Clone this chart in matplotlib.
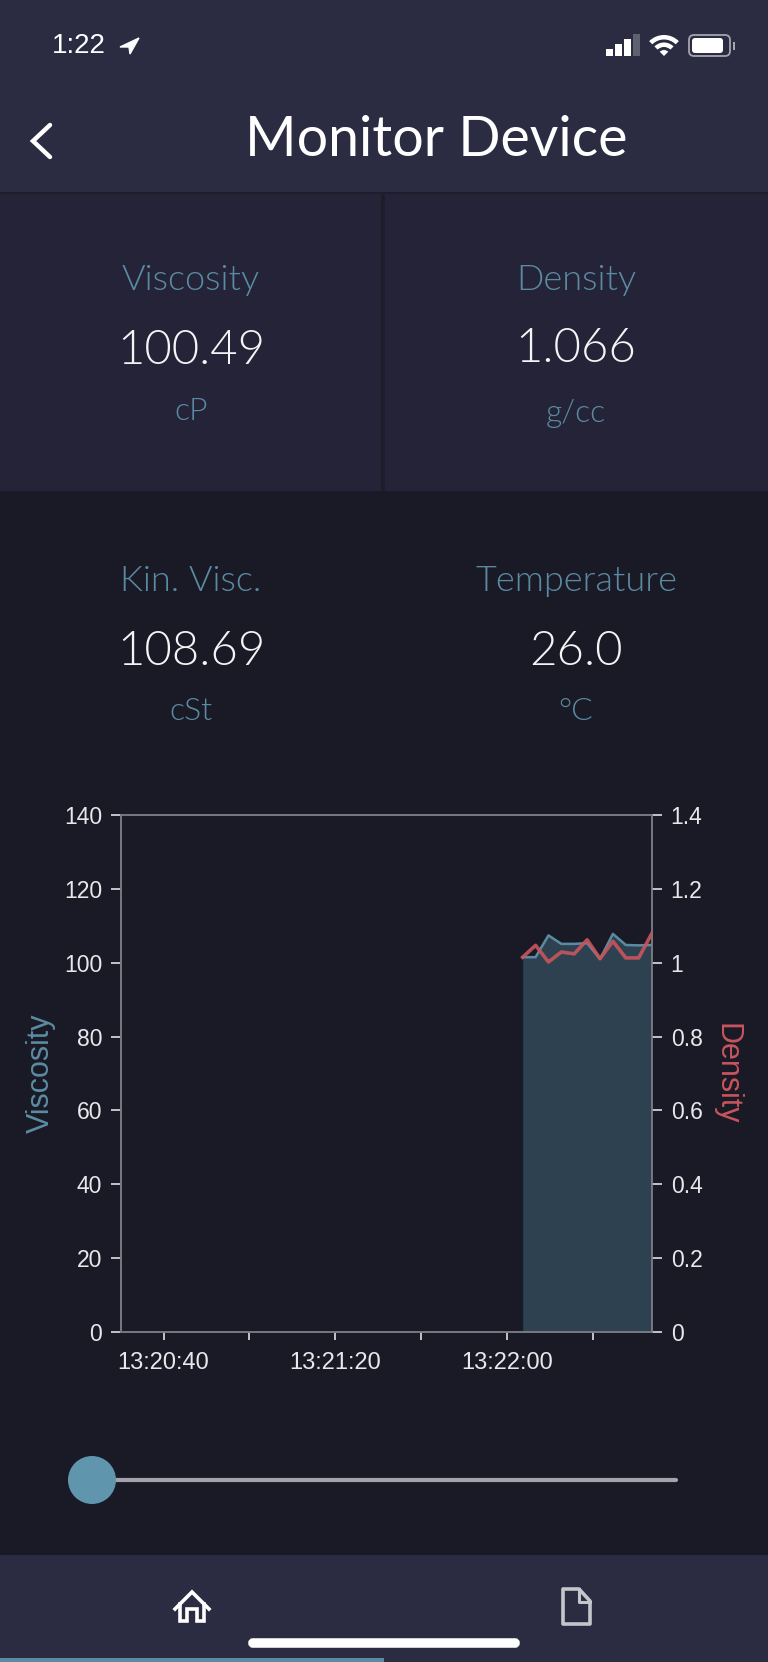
import matplotlib
matplotlib.use("Agg")
import matplotlib.pyplot as plt
from matplotlib.patches import Rectangle, Circle, FancyBboxPatch, Polygon, Wedge

# --- data ---
sample_seconds = [63.6, 66.6, 69.6, 72.6, 75.6, 78.6, 81.6, 84.6, 87.6, 90.6, 93.6]  # after 13:21:00
viscosity = [101.5, 101.5, 107.4, 105.1, 105.1, 105.3, 101.0, 107.8, 104.8, 104.7, 104.8]
density = [1.015, 1.047, 1.002, 1.029, 1.024, 1.062, 1.011, 1.058, 1.013, 1.013, 1.078]
x_ticks = [-20, 0, 20, 40, 60, 80]
x_tick_labels = ["13:20:40", "", "13:21:20", "", "13:22:00", ""]
visc_ticks = [0, 20, 40, 60, 80, 100, 120, 140]
dens_ticks = [0, 0.2, 0.4, 0.6, 0.8, 1, 1.2, 1.4]
dens_labels = ["0", "0.2", "0.4", "0.6", "0.8", "1", "1.2", "1.4"]
x_range = [-29.9, 93.7]
tiles = [("Viscosity", "100.49", "cP"), ("Density", "1.066", "g/cc"),
         ("Kin. Visc.", "108.69", "cSt"), ("Temperature", "26.0", "°C")]

BAR = "#2b2c42"; TILE = "#242337"; GAP = "#1e1d2c"; BODY = "#1a1a26"; BLUE = "#5b8ba3"; RED = "#c8555d"
WHITE = "#f4f4f6"; AXC = "#7b7b85"; TICK = "#d0d0d5"; LABEL = "#e8e8ec"; SANS = "Liberation Sans"; UI = "Lato"

W, H = 768, 1662
fig = plt.figure(figsize=(W / 100, H / 100), dpi=100, facecolor=BODY)
bg = fig.add_axes([0, 0, 1, 1], zorder=0)
bg.set_xlim(0, W); bg.set_ylim(H, 0); bg.axis("off")

def R(x, y, w, h, c, **k):
    bg.add_patch(Rectangle((x, y), w, h, fc=c, ec="none", **k))

def T(x, y, s, size, c, **k):
    k.setdefault("family", UI)
    bg.text(x, y, s, fontsize=size, color=c, ha=k.pop("ha", "center"), va=k.pop("va", "center"), **k)

# chrome
R(0, 0, W, 192, BAR)
R(0, 192, W, 299, GAP)
R(0, 194, 381, 297, TILE)
R(385, 194, 383, 297, TILE)
R(0, 1555, W, 107, BAR)
R(0, 1658, 384, 4, BLUE)
bg.add_patch(FancyBboxPatch((251, 1641), 266, 4, boxstyle="round,pad=0,rounding_size=2", fc="white", ec="white", lw=4))

# status bar
T(52, 46, "1:22", 20, "white", family=SANS, ha="left", fontweight="regular")
bg.add_patch(Polygon([(120, 47), (139, 38), (130, 54), (129, 47)], fc="white", ec="white", lw=1))
for x, top, col in [(606, 49, "white"), (615, 44, "white"), (624, 39, "white"), (633, 34, "#5f6070")]:
    R(x, top, 6.5, 56 - top, col)
bg.add_patch(Wedge((664, 56), 21, 225, 315, width=4.5, fc="white", ec="none"))
bg.add_patch(Wedge((664, 56), 13.5, 225, 315, width=4.5, fc="white", ec="none"))
bg.add_patch(Wedge((664, 56), 6, 225, 315, fc="white", ec="none"))
bg.add_patch(FancyBboxPatch((689, 35), 41, 21, boxstyle="round,pad=0,rounding_size=5", fc="none", ec="#a5a5ad", lw=1.3))
bg.add_patch(FancyBboxPatch((692, 38), 31, 15, boxstyle="round,pad=0,rounding_size=3", fc="white", ec="none"))
R(733, 42, 2, 8, "#a5a5ad")

# header
bg.plot([50, 33, 50], [125, 141, 157], color="white", lw=3.2, solid_capstyle="round", solid_joinstyle="miter")
T(436, 141, "Monitor Device", 40, "white", fontweight="regular")

# value tiles
centers = [(191, 280, 351, 411), (576, 280, 349, 413), (191, 581, 652, 712), (576, 581, 652, 712)]
for (name, val, unit), (cx, y1, y2, y3) in zip(tiles, centers):
    T(cx, y1, name, 26, BLUE, fontweight=300)
    T(cx, y2, val, 34, WHITE, fontweight=300)
    T(cx, y3, unit, 23, BLUE, fontweight=300)

# slider
bg.plot([110, 676], [1480, 1480], color="#a3a3ac", lw=3, solid_capstyle="round")
bg.add_patch(Circle((92, 1480), 24, fc="#6095ae", ec="none", zorder=3))

# nav icons
bg.plot([175, 192, 209], [1609, 1592, 1609], color="white", lw=2.6, solid_joinstyle="miter")
bg.plot([180, 180, 187, 187, 197, 197, 204, 204], [1604, 1621, 1621, 1609, 1609, 1621, 1621, 1604], color="white", lw=2.6, solid_joinstyle="miter")
bg.add_patch(Polygon([(563, 1589), (579, 1589), (590, 1601), (590, 1624), (563, 1624)], fc="none", ec="#c5c5cb", lw=2.6, joinstyle="round"))
bg.plot([579, 579, 590], [1589, 1602, 1602], color="#c5c5cb", lw=2.2)

# chart
ax = fig.add_axes([121 / W, 1 - 1332 / H, 531 / W, 517 / H], zorder=2)
ax.patch.set_alpha(0)
ax.set_xlim(*x_range); ax.set_ylim(0, 140)
ax.fill_between(sample_seconds, viscosity, 0, color="#2e4151", lw=0, zorder=1)
ax.plot(sample_seconds, viscosity, color=BLUE, lw=1.8, zorder=2)
ax.set_xticks(x_ticks); ax.set_xticklabels(x_tick_labels)
ax.set_yticks(visc_ticks)
ax.set_ylabel("Viscosity", color=BLUE, fontsize=22, fontfamily=SANS, va="center")
ax.yaxis.set_label_coords((41 - 121) / 531, 0.5)
ax2 = ax.twinx()
ax2.patch.set_alpha(0)
ax2.set_ylim(0, 1.4)
ax2.plot(sample_seconds, density, color=RED, lw=2.6, alpha=0.9, zorder=3)
ax2.set_yticks(dens_ticks); ax2.set_yticklabels(dens_labels)
ax2.set_ylabel("Density", color=RED, fontsize=22, fontfamily=SANS, rotation=270, va="center")
ax2.yaxis.set_label_coords((726 - 121) / 531, 0.5)
for a in (ax, ax2):
    for s in a.spines.values():
        s.set_color(AXC); s.set_linewidth(1.1)
    a.tick_params(axis="y", colors=LABEL, labelsize=16.5, length=7, width=1.3, color=TICK, pad=6.5)
    a.tick_params(axis="x", colors=LABEL, labelsize=17, length=6, width=1.3, color=TICK, pad=8.5)
    for lab in a.get_xticklabels() + a.get_yticklabels():
        lab.set_family(SANS)

fig.savefig("out.png", dpi=100, facecolor=BODY)
